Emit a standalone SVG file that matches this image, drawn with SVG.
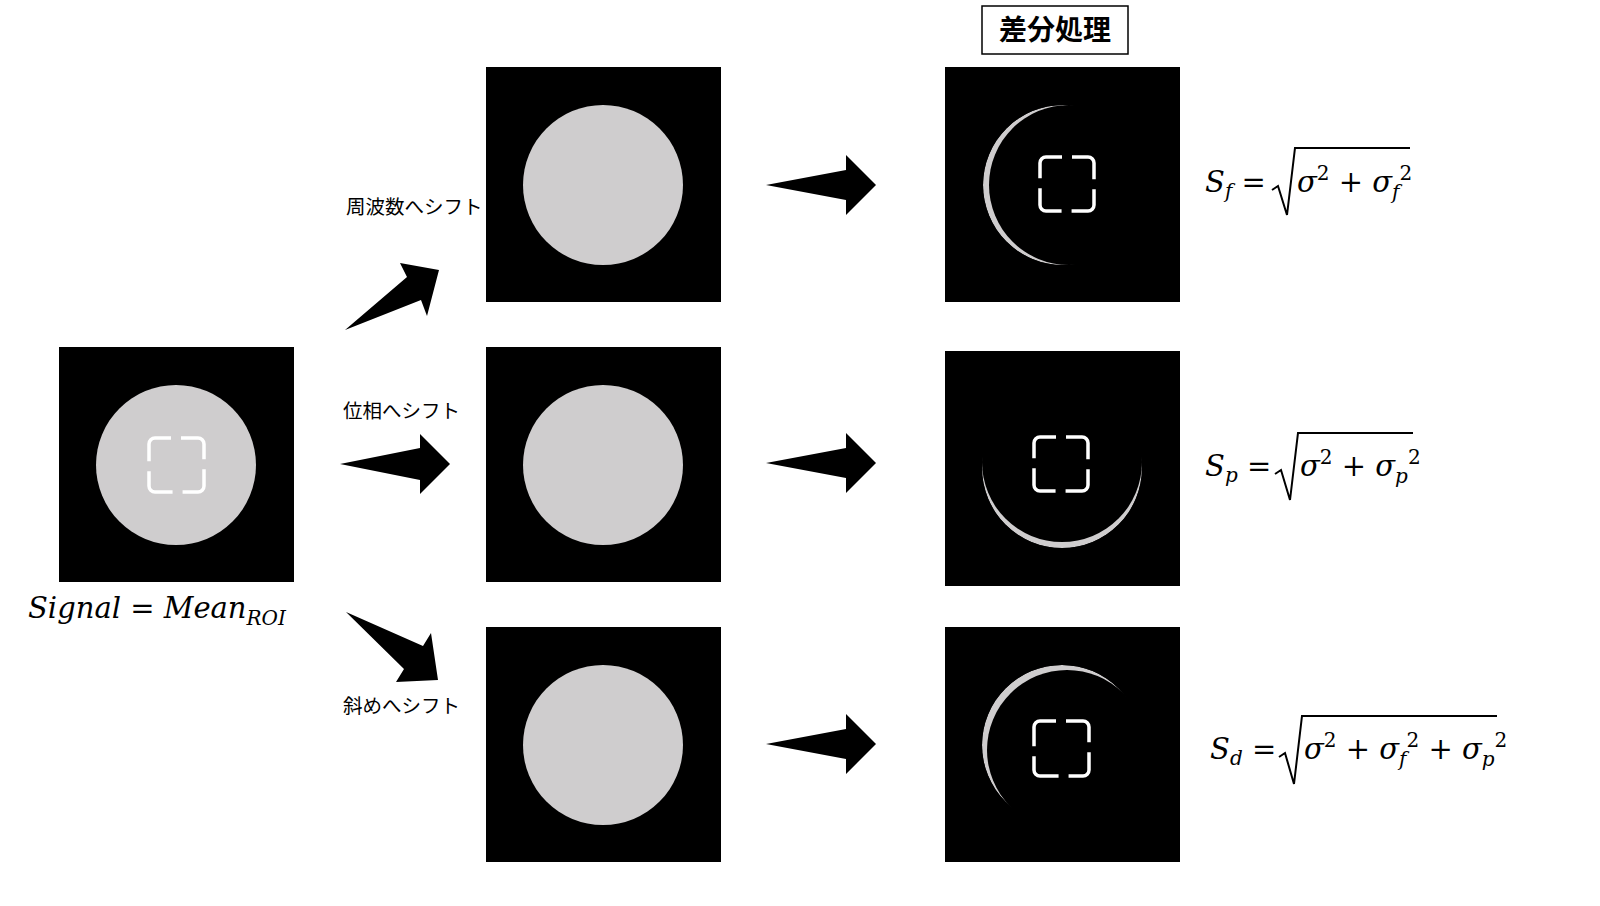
<svg xmlns="http://www.w3.org/2000/svg" width="1600" height="906" viewBox="0 0 1600 906">
<style>
.pan{fill:#000}
.disc{fill:#cfcdce}
.roi{fill:none;stroke:#fff;stroke-width:3.5;stroke-dasharray:41.4 10;stroke-dashoffset:25.4}
.arr{fill:#000}
.lbl{font-family:"Noto Sans CJK JP","Noto Sans",sans-serif;font-size:19.5px;fill:#000}
.m{font-family:"DejaVu Serif","Liberation Serif",serif;font-style:italic;font-size:29px;fill:#000}
.mu{font-family:"DejaVu Serif","Liberation Serif",serif;font-size:29px;fill:#000}
.rad{fill:none;stroke:#000;stroke-width:2}
</style>
<defs>
<mask id="m1"><rect x="945" y="67" width="235" height="235" fill="#000"/><circle cx="1063" cy="185" r="80" fill="#fff"/><circle cx="1069" cy="185" r="80" fill="#000"/></mask>
<mask id="m2"><rect x="945" y="351" width="235" height="235" fill="#000"/><circle cx="1062" cy="468" r="80" fill="#fff"/><circle cx="1062" cy="462" r="80" fill="#000"/></mask>
<mask id="m3"><rect x="945" y="627" width="235" height="235" fill="#000"/><circle cx="1062" cy="745" r="80" fill="#fff"/><circle cx="1067" cy="750" r="80" fill="#000"/></mask>
</defs>
<g id="title"><rect x="982" y="6" width="146" height="48" fill="#fff" stroke="#000" stroke-width="1.5"/><text x="1055" y="40" text-anchor="middle" font-family="Noto Sans CJK JP,sans-serif" font-weight="bold" font-size="28">差分処理</text></g>
<g id="orig"><rect class="pan" x="59" y="347" width="235" height="235"/><circle class="disc" cx="176" cy="465" r="80"/><rect class="roi" x="149" y="438" width="55" height="54" rx="6"/></g>
<g id="freq"><rect class="pan" x="486" y="67" width="235" height="235"/><circle class="disc" cx="603" cy="185" r="80"/></g>
<g id="phase"><rect class="pan" x="486" y="347" width="235" height="235"/><circle class="disc" cx="603" cy="465" r="80"/></g>
<g id="diag"><rect class="pan" x="486" y="627" width="235" height="235"/><circle class="disc" cx="603" cy="745" r="80"/></g>
<g id="dfreq"><rect class="pan" x="945" y="67" width="235" height="235"/><circle class="disc" cx="1063" cy="185" r="80" mask="url(#m1)"/><rect class="roi" x="1040" y="157" width="54" height="54" rx="6"/></g>
<g id="dphase"><rect class="pan" x="945" y="351" width="235" height="235"/><circle class="disc" cx="1062" cy="468" r="80" mask="url(#m2)"/><rect class="roi" x="1034" y="437" width="54" height="54" rx="6"/></g>
<g id="ddiag"><rect class="pan" x="945" y="627" width="235" height="235"/><circle class="disc" cx="1062" cy="745" r="80" mask="url(#m3)"/><rect class="roi" x="1034" y="721" width="55" height="55" rx="6"/></g>
<g id="connectors">
<polygon class="arr" points="345,330 407,277 400,263 439,270 427,316 421,300"/>
<polygon class="arr" points="340,464 420,448 420,434 450,464 420,494 420,480"/>
<polygon class="arr" points="346,612 423,646 431,633 438,680 396,682 404,669"/>
<polygon class="arr" points="766,185 846,170 846,155 876,185 846,215 846,200"/>
<polygon class="arr" points="766,463 846,448 846,433 876,463 846,493 846,478"/>
<polygon class="arr" points="766,744 846,729 846,714 876,744 846,774 846,759"/>
</g>
<g id="labels">
<text class="lbl" x="346" y="214">周波数へシフト</text>
<text class="lbl" x="343" y="418">位相へシフト</text>
<text class="lbl" x="343" y="713">斜めへシフト</text>
<text class="m" x="28" y="618">Signal <tspan class="mu" font-style="normal">=</tspan> Mean<tspan font-size="20" dy="7">ROI</tspan></text>
</g>
<g id="formulas">
<text class="m" x="1205" y="192">S<tspan font-size="20" dy="6">f</tspan><tspan class="mu" font-style="normal" dy="-6"> =</tspan></text>
<path class="rad" d="M1272,190 L1278,186 L1287,215 L1295,148 L1410,148"/>
<text class="m" x="1297" y="192">σ<tspan font-style="normal" font-size="20" dy="-12">2</tspan><tspan font-style="normal" dy="12"> + </tspan>σ<tspan font-size="20" dy="7">f</tspan><tspan font-style="normal" font-size="20" dy="-19">2</tspan></text>
<text class="m" x="1205" y="476">S<tspan font-size="20" dy="6">p</tspan><tspan class="mu" font-style="normal" dy="-6"> =</tspan></text>
<path class="rad" d="M1275,474 L1281,470 L1290,500 L1298,433 L1413,433"/>
<text class="m" x="1300" y="476">σ<tspan font-style="normal" font-size="20" dy="-12">2</tspan><tspan font-style="normal" dy="12"> + </tspan>σ<tspan font-size="20" dy="7">p</tspan><tspan font-style="normal" font-size="20" dy="-19">2</tspan></text>
<text class="m" x="1210" y="759">S<tspan font-size="20" dy="6">d</tspan><tspan class="mu" font-style="normal" dy="-6"> =</tspan></text>
<path class="rad" d="M1279,757 L1285,753 L1294,784 L1302,716 L1497,716"/>
<text class="m" x="1304" y="759">σ<tspan font-style="normal" font-size="20" dy="-12">2</tspan><tspan font-style="normal" dy="12"> + </tspan>σ<tspan font-size="20" dy="7">f</tspan><tspan font-style="normal" font-size="20" dy="-19">2</tspan><tspan font-style="normal" dy="12"> + </tspan>σ<tspan font-size="20" dy="7">p</tspan><tspan font-style="normal" font-size="20" dy="-19">2</tspan></text>
</g>
</svg>
